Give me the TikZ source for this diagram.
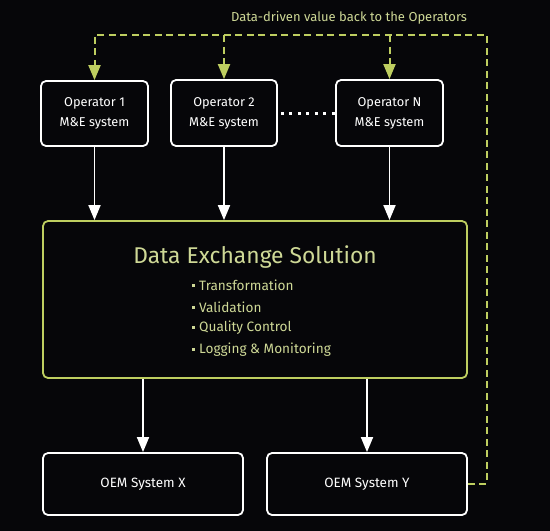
\documentclass[tikz,border=0pt]{standalone}
\usepackage{fontspec}
\setmainfont{Fira Sans}
\usetikzlibrary{arrows.meta}
\definecolor{limeline}{RGB}{190,206,96}
\definecolor{limetext}{RGB}{206,216,150}
\definecolor{bgdark}{RGB}{6,6,9}

\tikzset{
    sysbox/.style={draw=white, line width=1.8pt, rounded corners=5pt,
        text=white, align=center},
    flow/.style={draw=white, line width=1.8pt,
        -{Triangle[width=12pt,length=15pt]}},
    feedback/.style={draw=limeline, line width=2pt,
        dash pattern=on 7pt off 4.5pt,
        -{Triangle[width=12pt,length=15pt,fill=limeline]}}
}

\begin{document}
\begin{tikzpicture}[x=1pt, y=-1pt]
    \fill[bgdark] (0,0) rectangle (550,531);
    \useasboundingbox (0,0) rectangle (550,531);

    % operators
    \node[sysbox, minimum width=107pt, minimum height=65pt,
        font=\fontsize{12.8}{20}\selectfont] (op1) at (94.5,113.5)
        {Operator 1\\M\&E system};
    \node[sysbox, minimum width=106pt, minimum height=66pt,
        font=\fontsize{12.8}{20}\selectfont] (op2) at (224,113)
        {Operator 2\\M\&E system};
    \node[sysbox, minimum width=107pt, minimum height=66pt,
        font=\fontsize{12.8}{20}\selectfont] (opN) at (389.5,113)
        {Operator N\\M\&E system};
    \draw[white, line width=3pt, dash pattern=on 3pt off 5.5pt]
        ([xshift=3pt]op2.east) -- (opN.west);

    % exchange
    \node[sysbox, draw=limeline, minimum width=424pt, minimum height=157pt]
        (dex) at (255,299.5) {};
    \node[text=limetext, font=\fontsize{22.8}{26}\selectfont] (title)
        at (255,257) {Data Exchange Solution};
    \foreach \y/\txt [count=\i] in {285/Transformation, 307/Validation,
        328/Quality Control, 350/Logging \& Monitoring} {
        \node[anchor=west, inner sep=0pt, text=limetext,
            font=\fontsize{13.6}{16}\selectfont] (item\i) at (192,\y)
            {\raisebox{3pt}{\rule{3pt}{3pt}}\hspace{4pt}\txt};
    }

    % oem systems
    \node[sysbox, minimum width=200pt, minimum height=62pt,
        font=\fontsize{13.5}{16}\selectfont] (oemx) at (143,484)
        {OEM System X};
    \node[sysbox, minimum width=200pt, minimum height=62pt,
        font=\fontsize{13.5}{16}\selectfont] (oemy) at (367,484)
        {OEM System Y};

    % flows
    \foreach \n in {op1, op2, opN} {
        \draw[flow] (\n.south) -- (\n.south |- dex.north);
    }
    \foreach \n in {oemx, oemy} {
        \draw[flow] (\n.north |- dex.south) -- (\n.north);
    }

    % feedback loop
    \coordinate (fbtop) at (487,35);
    \draw[feedback] (oemy.east) -| (fbtop) -| (op1.north);
    \foreach \n in {op2, opN} {
        \draw[feedback] (\n.north |- fbtop) -- (\n.north);
    }
    \node[text=limetext, font=\fontsize{13}{16}\selectfont] (fblabel)
        at (349,18) {Data-driven value back to the Operators};
\end{tikzpicture}
\end{document}
